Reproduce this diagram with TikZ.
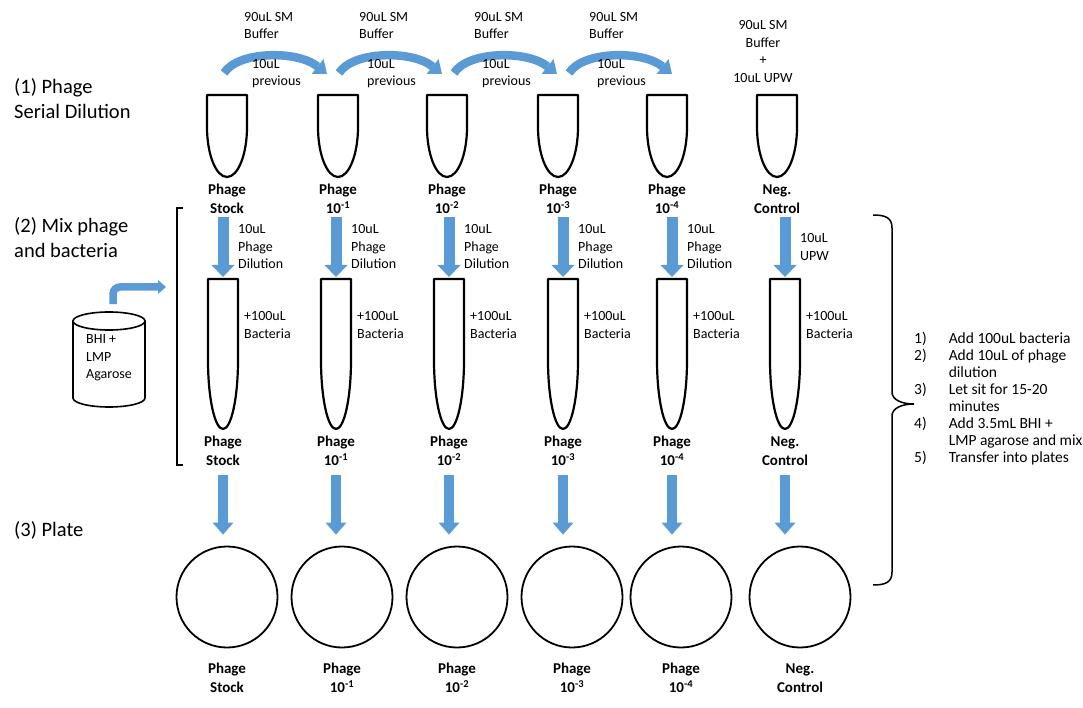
\documentclass[tikz,border=0pt]{standalone}
\usepackage{fontspec}
\setmainfont{Carlito}
\usetikzlibrary{arrows.meta,positioning}
\definecolor{officeblue}{HTML}{5B9BD5}
\tikzset{
  tube/.style={line width=2.2pt, line join=round},
  can/.style={line width=1.6pt},
  brk/.style={line width=1.5pt},
  plate/.style={draw, circle, line width=1.8pt, minimum size=101pt, inner sep=0pt},
  lbl/.style={font=\bfseries\fontsize{15}{19}\selectfont, align=center, inner sep=2pt},
  note/.style={font=\fontsize{14}{17.5}\selectfont, align=left, inner sep=1pt},
  head/.style={font=\fontsize{20.5}{25}\selectfont, align=left, inner sep=0pt},
  dnarrow/.style={draw=officeblue, line width=11pt, -{Triangle[width=23pt,length=12pt,line width=0pt]}},
  platearrow/.style={draw=officeblue, line width=10pt, -{Triangle[width=21pt,length=12pt,line width=0pt]}},
  bendarrow/.style={draw=officeblue, line width=8.5pt, -{Triangle[width=19pt,length=12pt,line width=0pt]}},
  canarrow/.style={draw=officeblue, line width=7.5pt, rounded corners=7pt, -{Triangle[width=14pt,length=8pt,line width=0pt]}}
}
\begin{document}
\begin{tikzpicture}[x=1pt,y=-1pt]
\useasboundingbox (0,0) rectangle (1083,708);
\node[head, anchor=west] (h1) at (14,99) {(1) Phage\\Serial Dilution};
\node[head, anchor=west] (h2) at (14,238) {(2) Mix phage\\and bacteria};
\node[head, anchor=west] (h3) at (14,530) {(3) Plate};
% the six columns
\foreach \xa/\xm/\xp/\lab/\dtxt [count=\i] in {
  227/223/227/{Phage\\Stock}/{10uL\\Phage\\Dilution},
  338/336/342/{Phage\\10\textsuperscript{-1}}/{10uL\\Phage\\Dilution},
  447/449/457/{Phage\\10\textsuperscript{-2}}/{10uL\\Phage\\Dilution},
  558/563/572/{Phage\\10\textsuperscript{-3}}/{10uL\\Phage\\Dilution},
  667/672/681/{Phage\\10\textsuperscript{-4}}/{10uL\\Phage\\Dilution},
  777/785/800/{Neg.\\Control}/{10uL\\UPW}}{
  \coordinate (a\i) at (\xa,95);
  \draw[tube] (\xa-20,95) -- (\xa-20,127) .. controls +(0,27.6) and +(-11,0) .. (\xa,177)
    .. controls +(11,0) and +(0,27.6) .. (\xa+20,127) -- (\xa+20,95) -- cycle;
  \node[lbl] (t\i) at (\xa,199) {\lab};
  \coordinate (m\i) at (\xm,279);
  \draw[dnarrow, shorten <=1pt, shorten >=2pt] (t\i.south -| m\i) -- (m\i);
  \node[note, anchor=west] (d\i) at ([shift={(14,-32)}]m\i) {\dtxt};
  \draw[tube] (\xm-15,279) -- (\xm-15,360) .. controls +(0,38) and +(-8.3,0) .. (\xm,429)
    .. controls +(8.3,0) and +(0,38) .. (\xm+15,360) -- (\xm+15,279) -- cycle;
  \node[note, anchor=west] (b\i) at ([shift={(20,46)}]m\i) {+100uL\\Bacteria};
  \node[lbl] (l\i) at (\xm,451) {\lab};
  \node[plate] (p\i) at (\xp,597) {};
  \draw[platearrow, shorten <=7pt, shorten >=11pt] (l\i.south -| m\i) -- (p\i.north -| m\i);
  \node[lbl] (q\i) at (\xp,678) {\lab};
}
% serial transfers
\foreach \i in {1,...,4}{
  \coordinate (s\i) at (224+115*\i-115,73);
  \coordinate (e\i) at (327+115*\i-115,74);
  \draw[bendarrow] (s\i) .. controls +(14,-22) and +(-30,-24) .. (e\i);
  \node[note, anchor=west] (sm\i) at ([shift={(19,-47.5)}]s\i) {90uL SM\\Buffer};
  \node[note, anchor=west] (pv\i) at ([shift={(27,0.5)}]s\i) {10uL\\previous};
}
\node[note, align=center] (negtxt) at (763,51.5) {90uL SM\\Buffer\\+\\10uL UPW};
% agarose
\draw[can] (73,321) -- (73,398) .. controls +(0,5) and +(-19.9,0) .. (109,407)
  .. controls +(19.9,0) and +(0,5) .. (145,398) -- (145,321);
\draw[can] (109,321) ellipse [x radius=36, y radius=9];
\node[note, anchor=west] (agar) at (85,358) {BHI +\\LMP\\Agarose};
\coordinate (cantop) at (113,304);
\coordinate (mixin) at (166,287);
\draw[canarrow] (cantop) |- (mixin);
% brackets
\draw[brk] (183,208) -- (177,208) -- (177,465) -- (183,465);
\draw[brk] (873,215) .. controls (886,215) and (892,218) .. (892,228) -- (892,392)
  .. controls (892,400) and (902,404) .. (914,404) .. controls (902,404) and (892,408) .. (892,416)
  -- (892,572) .. controls (892,582) and (886,585) .. (873,585);
\node[anchor=west, inner sep=0pt, font=\fontsize{15.5}{17}\selectfont] (steps) at (914,400) {%
  \begin{tabular}{@{}l@{\hspace{22pt}}l@{}}
  1) & Add 100uL bacteria\\
  2) & Add 10uL of phage\\
     & dilution\\
  3) & Let sit for 15-20\\
     & minutes\\
  4) & Add 3.5mL BHI +\\
     & LMP agarose and mix\\
  5) & Transfer into plates
  \end{tabular}};
\end{tikzpicture}
\end{document}
